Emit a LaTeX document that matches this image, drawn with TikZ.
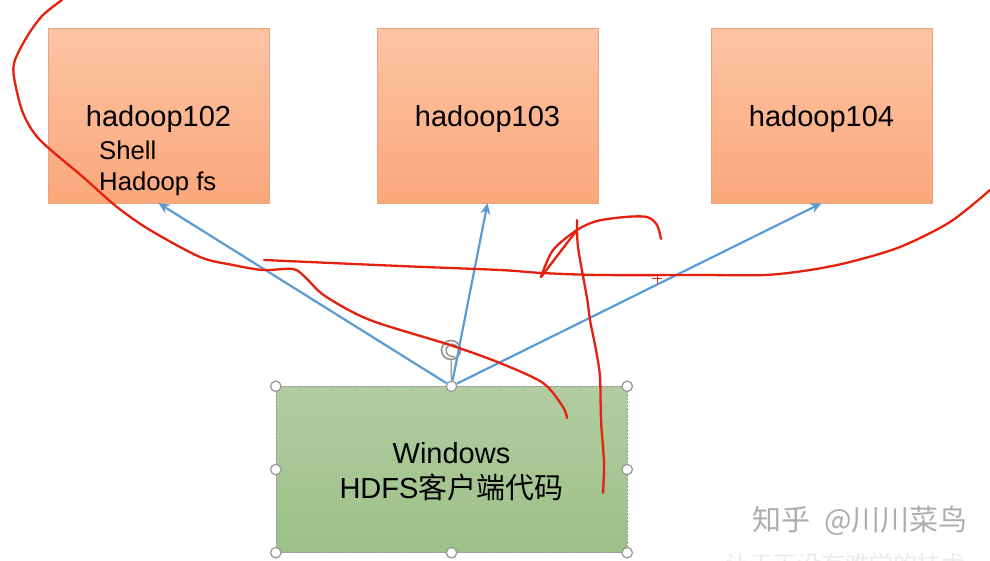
\documentclass[tikz,border=0pt]{standalone}
\usepackage{fontspec}
\usepackage{xcolor}
\usetikzlibrary{arrows.meta}
\setmainfont{Liberation Sans}
\newfontfamily\cjk{Noto Sans CJK SC}
\definecolor{hostline}{HTML}{E8A57E}
\definecolor{hosttop}{HTML}{FDC4A4}
\definecolor{hostbot}{HTML}{FBA77B}
\definecolor{clienttop}{HTML}{B2CDA1}
\definecolor{clientbot}{HTML}{9CC087}
\definecolor{linkblue}{HTML}{5B9BD5}
\definecolor{penred}{HTML}{E5200F}
\definecolor{gripgray}{HTML}{9A9A9A}
\tikzset{
	hostbox/.style={draw=hostline,top color=hosttop,bottom color=hostbot,minimum width=221pt,minimum height=175pt,inner sep=0pt,text height=21pt,text depth=0pt,font=\fontsize{29}{33}\selectfont},
	clientbox/.style={draw=gripgray,densely dotted,top color=clienttop,bottom color=clientbot,minimum width=351pt,minimum height=166pt,inner sep=0pt},
	clienttext/.style={inner sep=0pt,align=center,font=\fontsize{29}{35}\selectfont},
	hostnote/.style={anchor=base west,inner sep=0pt,font=\fontsize{25.7}{30}\selectfont},
	grip/.style={circle,draw=gripgray,fill=white,line width=1.3pt,minimum size=10.5pt,inner sep=0pt},
	link/.style={draw=linkblue,line width=2.2pt,-{Stealth[length=11pt,width=10pt]}},
	pen/.style={draw=penred,line width=2.3pt,line cap=round,line join=round,smooth,tension=.5}
}
\begin{document}
\begin{tikzpicture}[x=1pt,y=-1pt]
	\useasboundingbox (0,0) rectangle (990,560);
	\node[hostbox] (h102) at (158.5,115.5) {hadoop102};
	\node[hostbox] (h103) at (487.5,115.5) {hadoop103};
	\node[hostbox] (h104) at (821.5,115.5) {hadoop104};
	\node[hostnote] (shell) at (99,159) {Shell};
	\node[hostnote] (hfs) at (99,190) {Hadoop fs};
	\node[clientbox] (client) at (451.5,469.5) {};
	\node[clienttext] (clientname) at ([yshift=-2pt]client.center) {Windows\\HDFS{\cjk 客户端代码}};
	\node[grip] (gnw) at (client.north west) {};
	\node[grip] (gn) at (client.north) {};
	\node[grip] (gne) at (client.north east) {};
	\node[grip] (gw) at (client.west) {};
	\node[grip] (ge) at (client.east) {};
	\node[grip] (gsw) at (client.south west) {};
	\node[grip] (gs) at (client.south) {};
	\node[grip] (gse) at (client.south east) {};
	\node[circle,draw=gripgray,line width=1.8pt,minimum size=19pt,inner sep=0pt] (grot) at (451,350) {};
	\draw[gripgray,line width=1.3pt] (grot) -- (gn);
	\draw[gripgray,line width=1.5pt,smooth] plot coordinates {(457,346) (451,344) (446,349) (448,355) (455,357)};
	\draw[link] (gn) -- (h102.south);
	\draw[link] (gn) -- (h103.south);
	\draw[link] (gn) -- (h104.south);
	\draw[pen] plot coordinates {(62,0) (43,15) (28,35) (15,60) (14,77) (23,113) (40,140) (83,177) (117,207) (150,230) (200,257) (233,265) (263,270) (293,269) (305,277) (325,296) (370,320) (450,345) (500,363) (543,383) (563,407) (567,418)};
	\draw[pen] plot coordinates {(264,260) (400,266) (500,270) (542,273) (600,275) (700,275) (765,275) (810,270) (850,262) (900,247) (950,222) (990,190)};
	\draw[pen] plot coordinates {(541,277) (553,250) (577,230) (597,221) (625,217) (647,217) (657,225) (661,239)};
	\draw[pen] (541,277) -- (577,230);
	\draw[pen] plot coordinates {(577,220) (578,247) (587,298) (590,320) (596,350) (600,377) (601,420) (604,463) (603,493)};
	\draw[penred,line width=1pt] (652,278) -- (662,278) (657,274) -- (657,284);
	\node[anchor=base west,inner sep=0pt,text=black!32,font=\cjk\fontsize{29}{32}\selectfont] (mark) at (752,530) {知乎\hspace{14pt}@川川菜鸟};
	\node[anchor=base west,inner sep=0pt,text=black!8,font=\cjk\fontsize{24}{28}\selectfont] (slogan) at (725,573) {让天下没有难学的技术};
\end{tikzpicture}
\end{document}
